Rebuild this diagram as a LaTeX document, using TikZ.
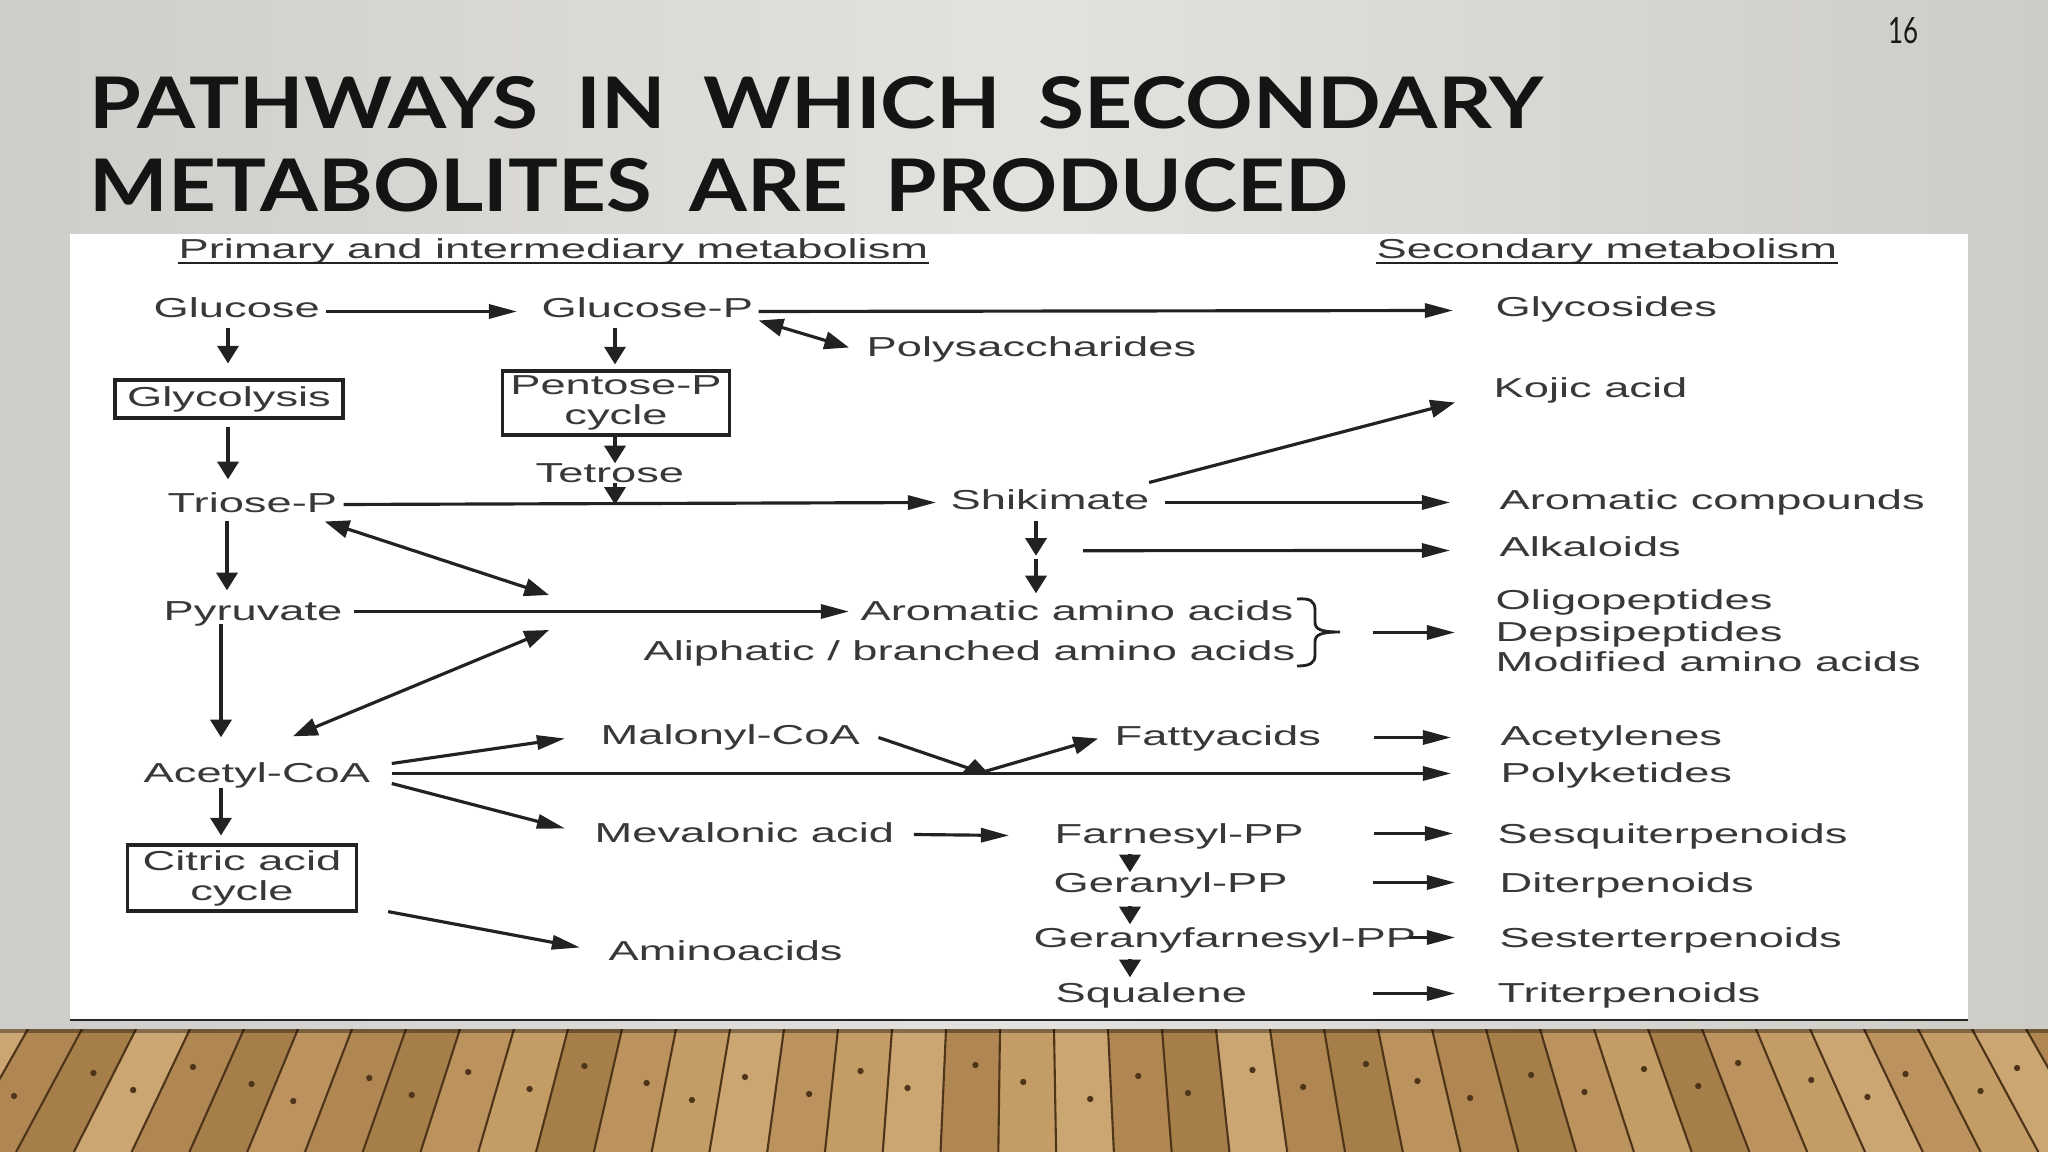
\documentclass[tikz,border=0pt]{standalone}
\usepackage{fontspec}
\usepackage{graphicx}
\usetikzlibrary{arrows.meta,calc}
\newfontfamily\diag{Liberation Sans}[FakeStretch=1.65]
\newfontfamily\ttl{Lato}
\definecolor{bgl}{HTML}{CFCDC9}
\definecolor{bgm}{HTML}{E4E2DF}
\definecolor{bgr}{HTML}{CECCC7}
\definecolor{txt}{HTML}{383838}
\definecolor{lnc}{HTML}{222222}
\definecolor{wa}{HTML}{C49C66}
\definecolor{wb}{HTML}{B08752}
\definecolor{wc}{HTML}{BC935E}
\definecolor{wd}{HTML}{CBA672}
\definecolor{we}{HTML}{A67E4A}
\definecolor{wline}{HTML}{4E3519}
\begin{document}
\begin{tikzpicture}[x=0.01cm,y=-0.01cm,
  tx/.style={font=\diag\fontsize{7.8}{8.6}\selectfont, text=txt, inner sep=0pt, anchor=base west, text height=0.19cm, text depth=0pt},
  bx/.style={draw=lnc, line width=0.9pt, font=\diag\fontsize{7.8}{8.5}\selectfont, text=txt, inner sep=0pt, align=center},
  cn/.style={draw=lnc, line width=0.9pt},
  harr/.style={cn, -{Triangle[length=8pt,width=4pt]}},
  varr/.style={cn, -{Triangle[length=5pt,width=6pt]}},
  darr/.style={cn, -{Triangle[length=7pt,width=5pt]}},
  dblarr/.style={cn, {Triangle[length=7pt,width=5pt]}-{Triangle[length=7pt,width=5pt]}},
]
\useasboundingbox (0,0) rectangle (2048,1152);
% slide background
\shade[left color=bgl, right color=bgr, middle color=bgm] (0,0) rectangle (2048,1152);
% wooden floor
\begin{scope}
\clip (0,1029) rectangle (2048,1152);
\fill[wc] (0,1029) rectangle (2048,1152);
\foreach \i in {0,...,42}{
  \pgfmathsetmacro\xa{-80+\i*54}
  \pgfmathsetmacro\xb{\xa+54}
  \pgfmathsetmacro\xc{1024+(\xa-1024)*1.07}
  \pgfmathsetmacro\xd{1024+(\xb-1024)*1.07}
  \pgfmathtruncatemacro\k{mod(\i*3+int(\i/4),5)}
  \ifcase\k\colorlet{pc}{wa}\or\colorlet{pc}{wb}\or\colorlet{pc}{wc}\or\colorlet{pc}{wd}\else\colorlet{pc}{we}\fi
  \fill[pc] (\xa,1029) -- (\xb,1029) -- (\xd,1152) -- (\xc,1152) -- cycle;
  \draw[wline, line width=0.6pt] (\xa,1029) -- (\xc,1152);
  \pgfmathsetmacro\yd{1062+mod(\i*17,40)}
  \pgfmathsetmacro\xm{\xa+(\xc-\xa)*(\yd-1029)/123+20+mod(\i*11,18)}
  \fill[wline] (\xm,\yd) circle (0.9pt);
}
\end{scope}
\fill[black, opacity=0.35] (0,1029) rectangle (2048,1033);
% white panel
\fill[white] (70,234) rectangle (1968,1019);
\draw[draw=black!85, line width=0.8pt] (70,1020) -- (1968,1020);

% title and page number
\node[anchor=base west, inner sep=0pt, text=black!92] (title1) at (89,129)
  {\resizebox{14.52cm}{0.52cm}{\ttl\bfseries PATHWAYS\hspace{0.45em}IN\hspace{0.45em}WHICH\hspace{0.45em}SECONDARY}};
\node[anchor=base west, inner sep=0pt, text=black!92] (title2) at (89,212)
  {\resizebox{12.58cm}{0.53cm}{\ttl\bfseries METABOLITES\hspace{0.45em}ARE\hspace{0.45em}PRODUCED}};
\node[anchor=base west, inner sep=0pt, text=black!90] (pg) at (1888,44)
  {\resizebox{0.30cm}{0.26cm}{\ttl 16}};

% headers
\node[tx] (hprim) at (178,259) {Primary and intermediary metabolism};
\node[tx] (hsec) at (1376,259) {Secondary metabolism};
\draw[draw=lnc, line width=0.6pt] ($(hprim.base west)+(0,4)$) -- ($(hprim.base east)+(0,4)$);
\draw[draw=lnc, line width=0.6pt] ($(hsec.base west)+(0,4)$) -- ($(hsec.base east)+(0,4)$);

% nodes
\node[tx] (gluc) at (153,318) {Glucose};
\node[tx] (glucp) at (541,318) {Glucose-P};
\node[tx] (glyc) at (1495,317) {Glycosides};
\node[tx] (poly) at (866,357) {Polysaccharides};
\node[bx, minimum width=2.28cm, minimum height=0.38cm] (glyco) at (229,399) {Glycolysis};
\node[bx, minimum width=2.27cm, minimum height=0.64cm] (pent) at (616,403) {Pentose-P\\cycle};
\node[tx] (kojic) at (1493,398) {Kojic acid};
\node[tx] (tetr) at (535,483) {Tetrose};
\node[tx] (trio) at (167,512) {Triose-P};
\node[tx] (shik) at (950,510) {Shikimate};
\node[tx] (aromc) at (1499,510) {Aromatic compounds};
\node[tx] (alka) at (1499,557) {Alkaloids};
\node[tx] (pyr) at (163,620) {Pyruvate};
\node[tx, anchor=base east] (arom) at (1294,620) {Aromatic amino acids};
\node[tx, anchor=base east] (aliph) at (1296,660) {Aliphatic / branched amino acids};
\node[tx] (oligo) at (1495,610) {Oligopeptides};
\node[tx] (depsi) at (1495,641) {Depsipeptides};
\node[tx] (modif) at (1495,671) {Modified amino acids};
\node[tx] (malo) at (600,744) {Malonyl-CoA};
\node[tx] (fatty) at (1114,745) {Fattyacids};
\node[tx] (acety) at (1500,745) {Acetylenes};
\node[tx] (acet) at (143,782) {Acetyl-CoA};
\node[tx] (polyk) at (1500,782) {Polyketides};
\node[tx] (meva) at (594,842) {Mevalonic acid};
\node[tx] (farn) at (1054,843) {Farnesyl-PP};
\node[tx] (sesq) at (1497,843) {Sesquiterpenoids};
\node[bx, minimum width=2.29cm, minimum height=0.66cm] (citric) at (242,878) {Citric acid\\cycle};
\node[tx] (gera) at (1053,892) {Geranyl-PP};
\node[tx] (dite) at (1499,892) {Diterpenoids};
\node[tx] (gfar) at (1033,947) {Geranyfarnesyl-PP};
\node[tx] (sest) at (1499,947) {Sesterterpenoids};
\node[tx] (amino) at (608,960) {Aminoacids};
\node[tx] (squa) at (1055,1002) {Squalene};
\node[tx] (trit) at (1497,1002) {Triterpenoids};

% helper coordinates
\coordinate (cx1) at (549,595);
\coordinate (cx2) at (549,630);
\coordinate (junc) at (975,773);
\coordinate (tcol) at (1130,0);
\coordinate (scol) at (1036,0);

% connectors
\draw[harr] ($(gluc.east)+(6,3)$) -- ($(glucp.west)+(-24,3)$);
\draw[harr] ($(glucp.east)+(5,3)$) -- ($(glyc.west)+(-42,3)$);
\draw[dblarr] ($(glucp.east)+(5,12)$) -- ($(poly.west)+(-17,0)$);
\draw[varr] ($(gluc.south west)+(75,9)$) -- ($(glyco.north)+(-1,-15)$);
\draw[varr] ($(glyco.south)+(-1,7)$) -- ($(glyco.south |- trio.north)+(-1,-13)$);
\draw[varr] ($(glucp.south west)+(74,9)$) -- ($(pent.north)+(-1,-5)$);
\draw[varr] ($(pent.south)+(-1,0)$) -- ($(tetr.north west)+(80,0)$);
\draw[varr] ($(tetr.south west)+(80,-1)$) -- ($(tetr.south west)+(80,21)$);
\draw[harr] ($(trio.east)+(6,2)$) -- ($(shik.west)+(-14,2)$);
\draw[varr] ($(trio.south west)+(60,8)$) -- ($(pyr.north west)+(64,-10)$);
\draw[dblarr] ($(trio.east)+(-13,19)$) -- (cx1);
\draw[harr] ($(pyr.east)+(11,1)$) -- ($(arom.west)+(-11,1)$);
\draw[varr] ($(pyr.south west)+(58,3)$) -- ($(acet.north west)+(78,-25)$);
\draw[dblarr] ($(acet.north west)+(150,-26)$) -- (cx2);
\draw[harr] ($(acet.east)+(21,-9)$) -- ($(malo.west)+(-35,4)$);
\draw[harr] ($(acet.east)+(21,1)$) -- ($(polyk.west)+(-49,1)$);
\draw[harr] ($(acet.east)+(21,11)$) -- ($(meva.west)+(-29,-4)$);
\draw[varr] ($(acet.south west)+(78,5)$) -- ($(citric.north)+(-21,-8)$);
\draw[harr] ($(citric.south east)+(30,-1)$) -- ($(amino.west)+(-28,-3)$);
\draw[harr] ($(meva.east)+(19,2)$) -- ($(farn.west)+(-45,2)$);
\draw[cn] ($(malo.east)+(18,3)$) -- ($(junc)+(-4,-4)$);
\fill[lnc] ($(junc)+(-13,0)$) -- ($(junc)+(0,-14)$) -- ($(junc)+(13,0)$) -- cycle;
\draw[darr] ($(junc)+(8,-1)$) -- ($(fatty.west)+(-16,3)$);
\draw[harr] ($(acety.west)+(-126,2)$) -- ($(acety.west)+(-49,2)$);
\draw[harr] ($(sesq.west)+(-123,0)$) -- ($(sesq.west)+(-44,0)$);
\draw[harr] ($(dite.west)+(-126,0)$) -- ($(dite.west)+(-44,0)$);
\draw[harr] ($(sest.west)+(-90,0)$) -- ($(sest.west)+(-44,0)$);
\draw[harr] ($(trit.west)+(-124,1)$) -- ($(trit.west)+(-42,1)$);
\draw[harr] ($(depsi.west)+(-122,1)$) -- ($(depsi.west)+(-40,1)$);
% terpenoid chain heads
\draw[varr] ($(tcol |- gera.north)+(0,-18)$) -- (tcol |- gera.north);
\draw[varr] ($(tcol |- gfar.north)+(0,-21)$) -- ($(tcol |- gfar.north)+(0,-3)$);
\draw[varr] ($(tcol |- squa.north)+(0,-23)$) -- ($(tcol |- squa.north)+(0,-5)$);
% shikimate branch
\draw[varr] ($(scol |- shik.south)+(0,10)$) -- ($(scol |- shik.south)+(0,45)$);
\draw[varr] ($(scol |- shik.south)+(0,48)$) -- ($(scol |- arom.north)+(0,-7)$);
\draw[harr] ($(scol |- shik.south)+(47,40)$) -- ($(alka.west)+(-49,3)$);
\draw[darr] ($(shik.east)+(-1,-18)$) -- ($(kojic.west)+(-38,14)$);
\draw[harr] ($(shik.east)+(15,2)$) -- ($(aromc.west)+(-49,2)$);
% brace
\draw[draw=lnc, line width=0.8pt] (1297,599) .. controls (1310,598) and (1315,601) .. (1315,610)
  -- (1315,622) .. controls (1315,629) and (1320,632) .. (1340,632)
  .. controls (1320,632) and (1315,635) .. (1315,642)
  -- (1315,655) .. controls (1315,663) and (1310,666) .. (1297,666);
\end{tikzpicture}
\end{document}
